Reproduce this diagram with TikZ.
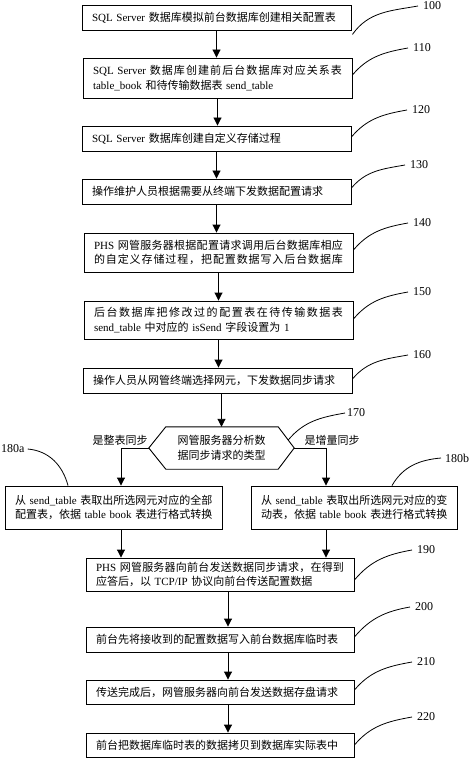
\documentclass[tikz,border=0pt]{standalone}
\usepackage{fontspec}
\setmainfont{Liberation Serif}
\newfontfamily\cjkf{Noto Sans CJK SC}
\usetikzlibrary{arrows.meta}
\ifdefined\newXeTeXintercharclass
  \newXeTeXintercharclass\CJKcls
\else
  \chardef\CJKcls=7
\fi
\newcount\mycnt
\newcommand\setcls[2]{\mycnt=#1\relax\loop\XeTeXcharclass\mycnt=\CJKcls\relax\ifnum\mycnt<#2\relax\advance\mycnt by 1\relax\repeat}
\setcls{"4E00}{"9FFF}
\setcls{"3000}{"303F}
\setcls{"FF00}{"FFEF}
\newcommand\latf{\rmfamily}
\XeTeXinterchartoks 0 \CJKcls = {\cjkf}
\XeTeXinterchartoks 4095 \CJKcls = {\cjkf}
\XeTeXinterchartoks \CJKcls 0 = {\latf}
\XeTeXinterchartoks \CJKcls 4095 = {\latf}
\XeTeXinterchartoks 4095 0 = {\latf}
\XeTeXinterchartoks \CJKcls \CJKcls = {\hskip 0pt plus 1pt\relax}
\XeTeXinterchartokenstate=1
\newcommand\fs{\fontsize{11pt}{14.5pt}\selectfont}
\newcommand\jl[1]{\makebox[\linewidth][s]{#1}}
\begin{document}
\begin{tikzpicture}[x=1pt,y=1pt,
  bx/.style={draw, line width=0.9pt, inner xsep=10pt, inner ysep=0pt, text width=#1, align=left, font=\fs},
  arr/.style={line width=0.9pt, -{Triangle[length=8pt,width=8pt]}},
  lead/.style={line width=0.8pt},
  lbl/.style={font=\fontsize{12pt}{12pt}\selectfont, inner xsep=5pt, inner ysep=1pt, anchor=west},
  brl/.style={font=\fs, inner sep=1pt}]
\useasboundingbox (0,0) rectangle (474,-759);

% boxes
\node[bx=249pt, minimum height=25pt] (b100) at (216.5,-17.5) {SQL Server 数据库模拟前台数据库创建相关配置表};
\node[bx=249pt, minimum height=40pt] (b110) at (217.5,-78) {\jl{SQL Server 数据库创建前后台数据库对应关系表}\\table\_book 和待传输数据表 send\_table};
\node[bx=249pt, minimum height=25pt] (b120) at (216.5,-138.5) {SQL Server 数据库创建自定义存储过程};
\node[bx=249pt, minimum height=25pt] (b130) at (216.5,-191.5) {操作维护人员根据需要从终端下发数据配置请求};
\node[bx=249pt, minimum height=39pt] (b140) at (218.5,-252.5) {\jl{PHS 网管服务器根据配置请求调用后台数据库相应}\\\jl{的自定义存储过程，把配置数据写入后台数据库}};
\node[bx=249pt, minimum height=38pt] (b150) at (218.5,-320) {\jl{后台数据库把修改过的配置表在待传输数据表}\\send\_table 中对应的 isSend 字段设置为 1};
\node[bx=249pt, minimum height=25pt] (b160) at (217.5,-380.5) {操作人员从网管终端选择网元，下发数据同步请求};

\node[minimum width=145pt, minimum height=42pt, inner sep=0pt, align=center, font=\fs] (hex) at (221.5,-448) {网管服务器分析数\\据同步请求的类型};
\draw[line width=0.9pt] (hex.west) -- ([xshift=17pt]hex.north west) -- ([xshift=-16pt]hex.north east) -- (hex.east) -- ([xshift=-16pt]hex.south east) -- ([xshift=17pt]hex.south west) -- cycle;

\node[bx=197pt, minimum height=43pt] (b180a) at (113.5,-507.5) {\jl{从 send\_table 表取出所选网元对应的全部}\\\jl{配置表，依据 table book 表进行格式转换}};
\node[bx=186pt, minimum height=43pt] (b180b) at (354,-507.5) {\jl{从 send\_table 表取出所选网元对应的变}\\\jl{动表，依据 table book 表进行格式转换}};
\node[bx=248pt, minimum height=33pt] (b190) at (220,-574.5) {\jl{PHS 网管服务器向前台发送数据同步请求，在得到}\\应答后，以 TCP/IP 协议向前台传送配置数据};
\node[bx=248pt, minimum height=25pt] (b200) at (220,-639.5) {前台先将接收到的配置数据写入前台数据库临时表};
\node[bx=248pt, minimum height=24pt] (b210) at (220,-692) {传送完成后，网管服务器向前台发送数据存盘请求};
\node[bx=248pt, minimum height=24pt] (b220) at (220,-745) {前台把数据库临时表的数据拷贝到数据库实际表中};

% branch labels
\node[brl] (yes1) at (120,-440) {是整表同步};
\node[brl] (yes2) at (332,-440) {是增量同步};

% arrows
\draw[arr] (b100.south) -- (b100.south |- b110.north);
\draw[arr] (b110.south) -- (b110.south |- b120.north);
\draw[arr] (b120.south) -- (b120.south |- b130.north);
\draw[arr] (b130.south) -- (b130.south |- b140.north);
\draw[arr] (b140.south) -- (b140.south |- b150.north);
\draw[arr] (b150.south) -- (b150.south |- b160.north);
\draw[arr] (b160.south -| hex.north) -- (hex.north);
\draw[arr] (hex.west) -| ([xshift=7.5pt]b180a.north);
\draw[arr] (hex.east) -| ([xshift=-28pt]b180b.north);
\draw[arr] ([xshift=7.5pt]b180a.south) -- ([xshift=7.5pt]b180a.south |- b190.north);
\draw[arr] ([xshift=-28pt]b180b.south) -- ([xshift=-28pt]b180b.south |- b190.north);
\draw[arr] ([xshift=8pt]b190.south) -- ([xshift=8pt]b200.north);
\draw[arr] ([xshift=8pt]b200.south) -- ([xshift=8pt]b210.north);
\draw[arr] ([xshift=8pt]b210.south) -- ([xshift=8pt]b220.north);

% reference numbers
\node[lbl] (n100) at (418,-6) {100};
\node[lbl] (n110) at (408,-48) {110};
\node[lbl] (n120) at (407,-110) {120};
\node[lbl] (n130) at (405,-165) {130};
\node[lbl] (n140) at (408,-223) {140};
\node[lbl] (n150) at (408,-292) {150};
\node[lbl] (n160) at (408,-355) {160};
\node[lbl, inner xsep=2pt] (n170) at (345,-413) {170};
\node[lbl, inner xsep=1pt, anchor=west] (n180a) at (0,-449) {180a};
\node[lbl, inner xsep=4pt] (n180b) at (441,-458) {180b};
\node[lbl] (n190) at (412,-550) {190};
\node[lbl] (n200) at (410,-607) {200};
\node[lbl] (n210) at (412,-662) {210};
\node[lbl] (n220) at (412,-717) {220};

\draw[lead] ([shift={(1pt,-4pt)}]b100.south east) to[out=55,in=190] (n100.west);
\draw[lead] ([yshift=3pt]b110.east) to[out=50,in=190] (n110.west);
\draw[lead] ([yshift=1.5pt]b120.east) to[out=50,in=190] (n120.west);
\draw[lead] ([yshift=3.5pt]b130.east) to[out=50,in=190] (n130.west);
\draw[lead] ([yshift=2.5pt]b140.east) to[out=50,in=190] (n140.west);
\draw[lead] ([yshift=1pt]b150.east) to[out=50,in=190] (n150.west);
\draw[lead] ([yshift=1.5pt]b160.east) to[out=50,in=190] (n160.west);
\draw[lead] ([shift={(-6pt,8pt)}]hex.east) to[out=50,in=190] (n170.west);
\draw[lead] ([xshift=2pt]n180a.east) to[out=-5,in=105] ([xshift=-45.5pt]b180a.north);
\draw[lead] (n180b.west) to[out=185,in=60] ([xshift=38pt]b180b.north);
\draw[lead] ([yshift=-5.5pt]b190.east) to[out=50,in=190] (n190.west);
\draw[lead] ([yshift=2.5pt]b200.east) to[out=50,in=190] (n200.west);
\draw[lead] ([yshift=2pt]b210.east) to[out=50,in=190] (n210.west);
\draw[lead] (b220.east) to[out=50,in=190] (n220.west);
\end{tikzpicture}
\end{document}
